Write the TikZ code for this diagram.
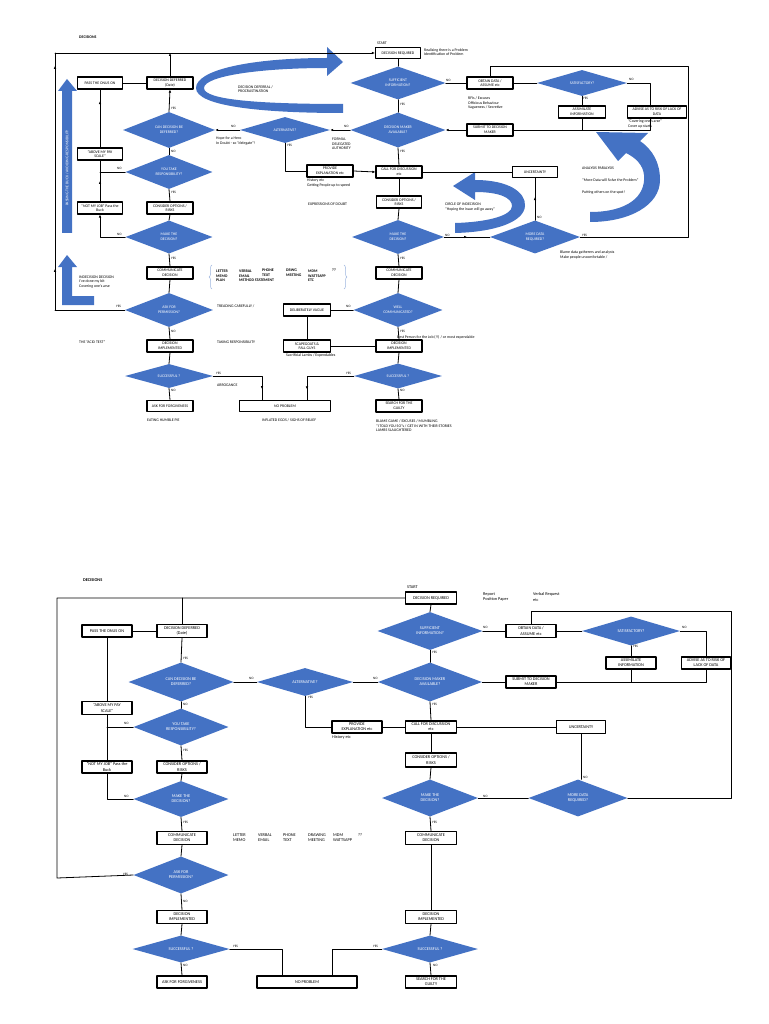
\documentclass[tikz,border=0pt]{standalone}
\usepackage{fontspec}
\setmainfont{Carlito}
\usepackage{tikz}
\usetikzlibrary{arrows.meta,positioning,calc,shapes.geometric,decorations.markings,decorations.pathreplacing}
\definecolor{decblue}{HTML}{4472C4}
\definecolor{bracegray}{HTML}{9DB5DE}
\newcommand{\tfont}{\fontsize{3.9}{4.6}\selectfont}
\newcommand{\bfnt}{\fontsize{4.3}{5.1}\selectfont}
\newcommand{\lblfont}{\fontsize{3.4}{4}\selectfont}

\begin{document}
\begin{tikzpicture}[
		x=1pt,y=-1pt,
		>=Latex,
		line cap=round,
		line join=round,
		box/.style={draw=black, line width=1.1pt, fill=white, inner sep=0.5pt, align=center, text=black},
		tbox/.style={box, font=\tfont, minimum width=46, minimum height=12},
		bbox/.style={box, font=\bfnt, minimum width=50, minimum height=13},
		dec/.style={diamond, fill=decblue, text=white, inner sep=0pt, aspect=2.8, align=center},
		tdec/.style={dec, font=\tfont, minimum width=90, minimum height=34},
		bdec/.style={dec, font=\bfnt, minimum width=98, minimum height=37},
		link/.style={line width=0.8pt, draw=black},
		flow/.style={link, -{Latex[length=3pt,width=2.6pt]}},
		midflow/.style={link, postaction={decorate}, decoration={markings, mark=at position #1 with {\arrow{Latex[length=3pt,width=2.6pt]}}}},
		tnote/.style={anchor=west, inner sep=0pt, font=\tfont, text=black},
		bnote/.style={anchor=west, inner sep=0pt, font=\bfnt, text=black},
		yn/.style={anchor=west, inner sep=0pt, font=\lblfont, text=black},
		bigarrow/.style={fill=decblue, draw=none}
	]
	\useasboundingbox (0,0) rectangle (768,1024);
	
	%%%%%%%%%%%%%%%% FIRST CHART (annotated)
	\node[anchor=west, inner sep=0pt, font=\tfont\bfseries] (ttitle) at (79,37) {DECISIONS};
	
	% Blue arrows
	\fill[bigarrow] (62,233) -- (62,91) -- (58,91) -- (67,79) -- (77,91) -- (72,91) -- (72,233) -- cycle;
	\node[rotate=90, text=white, font=\tfont, inner sep=0pt] (tbuck) at (67,168) {PASSING THE BUCK / AVOIDING RESPONSIBILITY};
	\fill[bigarrow] (62,267) -- (58,267) -- (67,255) -- (77,267) -- (72,267) -- (72,296) -- (94,296) -- (94,305) -- (62,305) -- cycle;
	\fill[bigarrow] (343,104) .. controls (260,104) and (204,100) .. (204,88) .. controls (204,76) and (260,68) .. (327,68) -- (327,76) -- (343,62) -- (327,47) -- (327,58) .. controls (250,58) and (196,70) .. (196,88) .. controls (196,106) and (260,113) .. (343,113) -- cycle;
	\fill[bigarrow] (475,180) .. controls (508,180) and (526,192) .. (525,206) .. controls (524,222) and (495,232) .. (455,233) -- (455,223) .. controls (490,222) and (512,215) .. (512,206) .. controls (512,198) and (500,192) .. (475,192) -- (475,200) -- (453,186) -- (475,172) -- cycle;
	\fill[bigarrow] (590,212) .. controls (628,212) and (646,196) .. (644,175) .. controls (643,165) and (636,158) .. (626,153) -- (618,161) -- (596,132) -- (648,133) -- (640,141) .. controls (653,150) and (660,163) .. (660,180) .. controls (660,205) and (630,222) .. (590,222) -- cycle;
	
	% Boxes and decisions
	\node[tbox, minimum width=45, minimum height=11] (t_dr) at (398,53) {DECISION REQUIRED};
	\node[tdec, minimum width=95, minimum height=33] (t_suff) at (398,83) {SUFFICIENT\\INFORMATION?};
	\node[tbox] (t_obtain) at (490,83) {OBTAIN DATA /\\ASSUME etc};
	\node[tdec, minimum height=26] (t_sat) at (582,83) {SATISFACTORY?};
	\node[tbox, minimum width=47] (t_assim) at (582,112) {ASSIMILATE\\INFORMATION};
	\node[tbox, minimum width=59] (t_advise) at (657,112) {ADVISE AS TO RISK OF LACK OF\\DATA};
	\node[tbox] (t_submit) at (490,130) {SUBMIT TO DECISION\\MAKER};
	\node[tdec, minimum width=95, minimum height=35] (t_dm) at (398,130) {DECISION MAKER\\AVAILABLE?};
	\node[tdec, minimum height=26] (t_alt) at (285,130) {ALTERNATIVE?};
	\node[tdec, minimum width=92, minimum height=36] (t_can) at (169,130) {CAN DECISION BE\\DEFERRED?};
	\node[tbox] (t_def) at (170,83) {DECISION DEFERRED\\(Date)};
	\node[tbox, minimum width=45] (t_pass) at (100,83) {PASS THE ONUS ON};
	\node[tbox, minimum width=45] (t_above) at (100,154) {"ABOVE MY PAY\\SCALE"};
	\node[tdec, minimum width=87] (t_you) at (169,172) {YOU TAKE\\RESPONSIBILITY?};
	\node[tbox, minimum width=45] (t_notjob) at (100,208) {"NOT MY JOB" Pass the\\Buck};
	\node[tbox] (t_cons) at (170,208) {CONSIDER OPTIONS /\\RISKS};
	\node[tdec, minimum width=87, minimum height=33] (t_make) at (169,237) {MAKE THE\\DECISION?};
	\node[tbox] (t_comm) at (170,273) {COMMUNICATE\\DECISION};
	\node[tdec, minimum width=88] (t_ask) at (169,310) {ASK FOR\\PERMISSION?};
	\node[tbox] (t_impl) at (170,346) {DECISION\\IMPLEMENTED};
	\node[tdec, minimum width=88, minimum height=24] (t_succ) at (169,376) {SUCCESSFUL ?};
	\node[tbox, minimum height=11] (t_forg) at (170,406) {ASK FOR FORGIVENESS};
	\node[tbox, minimum width=91, minimum height=11] (t_noprob) at (285,406) {NO PROBLEM};
	\node[tbox] (t_prov) at (330,171) {PROVIDE\\EXPLANATION etc};
	\node[tbox] (t_call) at (399,172) {CALL FOR DISCUSSION\\etc};
	\node[tbox, minimum width=45, minimum height=11] (t_unc) at (535,172) {UNCERTAINTY};
	\node[tbox, minimum width=45] (t_cons2) at (399,202) {CONSIDER OPTIONS /\\RISKS};
	\node[tdec, minimum width=92] (t_make2) at (398,237) {MAKE THE\\DECISION?};
	\node[tdec, minimum height=33] (t_more) at (535,237) {MORE DATA\\REQUIRED?};
	\node[tbox] (t_comm2) at (399,273) {COMMUNICATE\\DECISION};
	\node[tdec, minimum width=89] (t_well) at (398,310) {WELL\\COMMUNICATED?};
	\node[tbox, minimum width=47] (t_vague) at (307,310) {DELIBERATELY VAGUE};
	\node[tbox, minimum width=47] (t_scape) at (307,346) {SCAPEGOATS \&\\FALL GUYS};
	\node[tbox] (t_impl2) at (399,346) {DECISION\\IMPLEMENTED};
	\node[tdec, minimum width=88, minimum height=25] (t_succ2) at (398,376) {SUCCESSFUL ?};
	\node[tbox] (t_guilty) at (399,406) {SEARCH FOR THE\\GUILTY};
	
	% Loop corners
	\coordinate (t_tl) at (55,53);
	\coordinate (t_bl) at (55,310);
	\coordinate (t_tr) at (688,66);
	\coordinate (t_br) at (688,237);
	
	% Connectors
	\draw[link] (t_ask.west) -- (t_bl);
	\draw[link, postaction={decorate}, decoration={markings, mark=at position 0.16 with {\arrow{Latex[length=3pt,width=2.6pt]}}, mark=at position 0.95 with {\arrow{Latex[length=3pt,width=2.6pt]}}}] (t_bl) -- (t_tl);
	\draw[flow] (t_tl) -- (t_dr.west);
	\draw[flow] (t_def.north) -- (t_def.north |- t_tl);
	\draw[link] (t_pass.east) -- (t_def.west);
	\draw[link] (t_dr.south) -- (t_suff.north);
	\draw[link] (t_suff.east) -- (t_obtain.west);
	\draw[link] (t_obtain.east) -- (t_sat.west);
	\draw[link] (t_sat.east) -| ([xshift=-7]t_advise.north);
	\draw[link] (t_sat.south) -- (t_assim.north);
	\draw[link] (t_more.east) -- (t_br) -- (t_tr) -| (t_obtain.north);
	\draw[link] ([xshift=-7]t_advise.south) |- (t_submit.east);
	\draw[link] (t_assim.south) -- (t_assim.south |- t_submit.east);
	\draw[flow] (t_submit.west) -- (t_dm.east);
	\draw[link] (t_suff.south) -- (t_dm.north);
	\draw[flow] (t_dm.west) -- (t_alt.east);
	\draw[flow] (t_alt.west) -- (t_can.east);
	\draw[flow] (t_can.north) -- (t_def.south);
	\draw[link] (t_can.south) -- (t_you.north);
	\draw[link] (t_alt.south) |- (t_prov.west);
	\draw[flow] (t_prov.east) -- (t_call.west);
	\draw[link] (t_dm.south) -- (t_call.north);
	\draw[link] (t_call.east) -- (t_unc.west);
	\draw[midflow=0.55] (t_more.north) -- (t_unc.south);
	\draw[link] (t_call.south) -- (t_cons2.north);
	\draw[link] (t_cons2.south) -- (t_make2.north);
	\draw[midflow=0.5] (t_make2.east) -- (t_more.west);
	\draw[link] (t_make2.south) -- (t_comm2.north);
	\draw[link] (t_comm2.south) -- (t_well.north);
	\draw[link] (t_well.west) -- (t_vague.east);
	\draw[link] (t_vague.south) -- (t_scape.north);
	\draw[link] (t_impl2.west) -- (t_scape.east);
	\draw[link] (t_well.south) -- (t_impl2.north);
	\draw[link] (t_impl2.south) -- (t_succ2.north);
	\draw[midflow=0.85] (t_succ2.west) -| ([xshift=22]t_noprob.north);
	\draw[midflow=0.85] (t_succ.east) -| ([xshift=-23]t_noprob.north);
	\draw[link] (t_succ2.south) -- (t_guilty.north);
	\draw[midflow=0.8] (t_above.north) -- (t_pass.south);
	\draw[midflow=0.5] (t_notjob.north) -- (t_above.south);
	\draw[link] (t_you.west) -- (t_you.west -| t_above.south);
	\draw[flow] (t_make.west) -| (t_notjob.south);
	\draw[link] (t_you.south) -- (t_cons.north);
	\draw[link] (t_cons.south) -- (t_make.north);
	\draw[link] (t_make.south) -- (t_comm.north);
	\draw[link] (t_comm.south) -- (t_ask.north);
	\draw[link] (t_ask.south) -- (t_impl.north);
	\draw[link] (t_impl.south) -- (t_succ.north);
	\draw[link] (t_succ.south) -- (t_forg.north);
	
	% Yes / No
	\node[yn] (t_y1) at (446,80) {NO};
	\node[yn] (t_y2) at (629,79) {NO};
	\node[yn] (t_y3) at (583,98) {YES};
	\node[yn] (t_y4) at (400,104) {YES};
	\node[yn] (t_y5) at (344,126) {NO};
	\node[yn] (t_y6) at (400,151) {YES};
	\node[yn] (t_y7) at (231,126) {NO};
	\node[yn] (t_y8) at (287,145) {YES};
	\node[yn] (t_y9) at (171,108) {YES};
	\node[yn] (t_y10) at (171,151) {NO};
	\node[yn] (t_y11) at (117,168) {NO};
	\node[yn] (t_y12) at (171,192) {YES};
	\node[yn] (t_y13) at (117,234) {NO};
	\node[yn] (t_y14) at (171,258) {YES};
	\node[yn] (t_y15) at (116,306) {YES};
	\node[yn] (t_y16) at (171,331) {NO};
	\node[yn] (t_y17) at (216,373) {YES};
	\node[yn] (t_y18) at (171,390) {NO};
	\node[yn] (t_y19) at (445,235) {NO};
	\node[yn] (t_y20) at (400,258) {YES};
	\node[yn] (t_y21) at (537,217) {NO};
	\node[yn] (t_y22) at (582,235) {YES};
	\node[yn] (t_y23) at (346,306) {NO};
	\node[yn] (t_y24) at (400,331) {YES};
	\node[yn] (t_y25) at (346,373) {YES};
	\node[yn] (t_y26) at (400,390) {NO};
	
	% Notes
	\node[tnote] (t_start) at (377,43) {START};
	\node[tnote, align=left] (t_real) at (424,52) {Realising there is a Problem\\Identification of Problem};
	\node[tnote, align=left] (t_rfi) at (468,103) {RFIs / Excuses\\Officious Behaviour\\Vagueness / Secretive};
	\node[tnote, align=left] (t_cover) at (628,124) {"Covering one's arse"\\Cover up starts};
	\node[tnote, align=left] (t_proc) at (238,89) {DECISION DEFERRAL /\\PROCRASTINATION};
	\node[tnote, align=left] (t_hope) at (216,141) {Hope for a Hero\\In Doubt - so "delegate"!};
	\node[tnote, align=left] (t_formal) at (332,144) {FORMAL\\DELEGATED\\AUTHORITY};
	\node[tnote, align=left] (t_hist) at (307,183) {History etc\\Getting People up to speed};
	\node[tnote] (t_doubt) at (308,204) {EXPRESSIONS OF DOUBT};
	\node[tnote, align=left] (t_circle) at (445,207) {CIRCLE OF INDECISION\\"Hoping the issue will go away"};
	\node[tnote] (t_ana1) at (582,168) {ANALYSIS PARALYSIS};
	\node[tnote] (t_ana2) at (582,180) {"More Data will Solve the Problem"};
	\node[tnote] (t_ana3) at (582,192) {Putting others on the spot!};
	\node[tnote, align=left] (t_blame) at (560,255) {Blame data gatherers and analysts\\Make people uncomfortable /};
	\node[tnote, align=left] (t_indec) at (79,282) {INDECISION DECISION\\I've done my bit\\Covering one's arse};
	\node[tnote] (t_tread) at (217,306) {TREADING CAREFULLY /};
	\node[tnote] (t_taking) at (217,342) {TAKING RESPONSIBILITY};
	\node[tnote] (t_acid) at (79,342) {THE "ACID TEST"};
	\node[tnote] (t_arrog) at (217,385) {ARROGANCE};
	\node[tnote] (t_humble) at (147,420) {EATING HUMBLE PIE};
	\node[tnote] (t_egos) at (262,420) {INFLATED EGOS / SIGHS OF RELIEF};
	\node[tnote] (t_lambs) at (286,355) {Sacrificial Lambs / Expendables};
	\node[tnote] (t_best) at (397,337) {Best Person for the Job (!!) / or most expendable};
	\node[tnote, align=left] (t_game) at (376,426) {BLAME GAME / EXCUSES / MUMBLING\\"I TOLD YOU SO"s / GET IN WITH THEIR STORIES\\LAMBS SLAUGHTERED};
	
	% Ways of communicating
	\draw[bracegray, line width=0.5pt, decorate, decoration={brace, amplitude=3pt}] (212,289) -- (212,265);
	\draw[bracegray, line width=0.5pt, decorate, decoration={brace, amplitude=3pt}] (344,265) -- (344,289);
	\node[tnote, font=\tfont\bfseries, align=left] (t_w1) at (216,276) {LETTER\\MEMO\\PLAN};
	\node[tnote, font=\tfont\bfseries, align=left] (t_w2) at (239,276) {VERBAL\\EMAIL\\METHOD STATEMENT};
	\node[tnote, font=\tfont\bfseries, align=left] (t_w3) at (262,273) {PHONE\\TEXT};
	\node[tnote, font=\tfont\bfseries, align=left] (t_w4) at (286,273) {DRWG\\MEETING};
	\node[tnote, font=\tfont\bfseries, align=left] (t_w5) at (308,276) {MDM\\WATTSAPP\\ETC};
	\node[tnote, font=\tfont\bfseries] (t_w6) at (332,270) {??};
	
	%%%%%%%%%%%%%%%% SECOND CHART (plain)
	\node[anchor=west, inner sep=0pt, font=\bfnt\bfseries] (btitle) at (83,580) {DECISIONS};
	
	\node[bbox, minimum width=51, minimum height=12] (b_dr) at (431,598) {DECISION REQUIRED};
	\node[bdec, minimum width=105, minimum height=38] (b_suff) at (430,631) {SUFFICIENT\\INFORMATION?};
	\node[bbox] (b_obtain) at (531,631) {OBTAIN DATA /\\ASSUME etc};
	\node[bdec, minimum height=29] (b_sat) at (631,631) {SATISFACTORY?};
	\node[bbox, minimum height=12] (b_assim) at (631,663) {ASSIMILATE\\INFORMATION};
	\node[bbox, minimum width=49, minimum height=12] (b_advise) at (706,663) {ADVISE AS TO RISK OF\\LACK OF DATA};
	\node[bbox, minimum height=12] (b_submit) at (531,682) {SUBMIT TO DECISION\\MAKER};
	\node[bdec, minimum width=104, minimum height=39] (b_dm) at (430,682) {DECISION MAKER\\AVAILABLE?};
	\node[bdec, minimum width=96, minimum height=28] (b_alt) at (305,682) {ALTERNATIVE?};
	\node[bdec, minimum width=105, minimum height=39] (b_can) at (181,682) {CAN DECISION BE\\DEFERRED?};
	\node[bbox] (b_def) at (182,631) {DECISION DEFERRED\\(Date)};
	\node[bbox, minimum height=12] (b_pass) at (107,631) {PASS THE ONUS ON};
	\node[bbox] (b_above) at (107,708) {"ABOVE MY PAY\\SCALE"};
	\node[bdec, minimum width=95] (b_you) at (181,727) {YOU TAKE\\RESPONSIBILITY?};
	\node[bbox, minimum height=12] (b_notjob) at (107,767) {"NOT MY JOB" Pass the\\Buck};
	\node[bbox, minimum height=12] (b_cons) at (182,767) {CONSIDER OPTIONS /\\RISKS};
	\node[bdec, minimum width=95, minimum height=36] (b_make) at (181,799) {MAKE THE\\DECISION?};
	\node[bbox] (b_comm) at (182,838) {COMMUNICATE\\DECISION};
	\node[bdec, minimum width=95] (b_ask) at (181,875) {ASK FOR\\PERMISSION?};
	\node[bbox] (b_impl) at (182,917) {DECISION\\IMPLEMENTED};
	\node[bdec, minimum width=97, minimum height=27] (b_succ) at (181,949) {SUCCESSFUL ?};
	\node[bbox, minimum height=12] (b_forg) at (182,982) {ASK FOR FORGIVENESS};
	\node[bbox, minimum width=100, minimum height=12] (b_noprob) at (307,982) {NO PROBLEM};
	\node[bbox, minimum height=12] (b_prov) at (357,727) {PROVIDE\\EXPLANATION etc};
	\node[bbox, minimum width=51, minimum height=12] (b_call) at (431,727) {CALL FOR DISCUSSION\\etc};
	\node[bbox, minimum width=49] (b_unc) at (581,727) {UNCERTAINTY};
	\node[bbox, minimum width=51, minimum height=14] (b_cons2) at (431,760) {CONSIDER OPTIONS /\\RISKS};
	\node[bdec, minimum width=96] (b_make2) at (430,798) {MAKE THE\\DECISION?};
	\node[bdec, minimum width=99] (b_more) at (578,798) {MORE DATA\\REQUIRED?};
	\node[bbox, minimum width=51] (b_comm2) at (431,838) {COMMUNICATE\\DECISION};
	\node[bbox, minimum width=51] (b_impl2) at (431,917) {DECISION\\IMPLEMENTED};
	\node[bdec, minimum width=96, minimum height=27] (b_succ2) at (430,949) {SUCCESSFUL ?};
	\node[bbox, minimum width=51, minimum height=12] (b_guilty) at (431,982) {SEARCH FOR THE\\GUILTY};
	
	% Loop corners
	\coordinate (b_tl) at (57,598);
	\coordinate (b_bl) at (57,878);
	\coordinate (b_tr) at (731,611);
	\coordinate (b_br) at (731,798);
	
	% Connectors
	\draw[link] (b_ask.west) -- (b_bl) -- (b_tl) -- (b_dr.west);
	\draw[link] (b_def.north) -- (b_def.north |- b_tl);
	\draw[link] (b_pass.east) -- (b_def.west);
	\draw[link] (b_dr.south) -- (b_suff.north);
	\draw[link] (b_suff.east) -- (b_obtain.west);
	\draw[link] (b_obtain.east) -- (b_sat.west);
	\draw[link] (b_sat.east) -| (b_advise.north);
	\draw[link] (b_sat.south) -- (b_assim.north);
	\draw[link] (b_more.east) -- (b_br) -- (b_tr) -| (b_obtain.north);
	\draw[link] (b_advise.south) |- (b_submit.east);
	\draw[link] (b_assim.south) -- (b_assim.south |- b_submit.east);
	\draw[link] (b_submit.west) -- (b_dm.east);
	\draw[link] (b_suff.south) -- (b_dm.north);
	\draw[link] (b_dm.west) -- (b_alt.east);
	\draw[link] (b_alt.west) -- (b_can.east);
	\draw[link] (b_can.north) -- (b_def.south);
	\draw[link] (b_can.south) -- (b_you.north);
	\draw[link] (b_alt.south) |- (b_prov.west);
	\draw[link] (b_prov.east) -- (b_call.west);
	\draw[link] (b_dm.south) -- (b_call.north);
	\draw[link] (b_call.east) -- (b_unc.west);
	\draw[link] (b_unc.south) -- (b_unc.south |- b_more.north);
	\draw[link] (b_call.south) -- (b_cons2.north);
	\draw[link] (b_cons2.south) -- (b_make2.north);
	\draw[link] (b_make2.east) -- (b_more.west);
	\draw[link] (b_make2.south) -- (b_comm2.north);
	\draw[link] (b_comm2.south) -- (b_impl2.north);
	\draw[link] (b_impl2.south) -- (b_succ2.north);
	\draw[link] (b_succ2.west) -| ([xshift=25]b_noprob.north);
	\draw[link] (b_succ.east) -| ([xshift=-25]b_noprob.north);
	\draw[link] (b_succ2.south) -- (b_guilty.north);
	\draw[link] (b_pass.south) -- (b_above.north);
	\draw[link] (b_above.south) -- (b_notjob.north);
	\draw[link] (b_you.west) -- (b_you.west -| b_above.south);
	\draw[link] (b_make.west) -| (b_notjob.south);
	\draw[link] (b_you.south) -- (b_cons.north);
	\draw[link] (b_cons.south) -- (b_make.north);
	\draw[link] (b_make.south) -- (b_comm.north);
	\draw[link] (b_comm.south) -- (b_ask.north);
	\draw[link] (b_ask.south) -- (b_impl.north);
	\draw[link] (b_impl.south) -- (b_succ.north);
	\draw[link] (b_succ.south) -- (b_forg.north);
	
	% Yes / No
	\node[yn] (b_y1) at (483,627) {NO};
	\node[yn] (b_y2) at (682,627) {NO};
	\node[yn] (b_y3) at (633,646) {YES};
	\node[yn] (b_y4) at (432,652) {YES};
	\node[yn] (b_y5) at (373,678) {NO};
	\node[yn] (b_y6) at (432,704) {YES};
	\node[yn] (b_y7) at (249,678) {NO};
	\node[yn] (b_y8) at (308,697) {YES};
	\node[yn] (b_y9) at (183,658) {YES};
	\node[yn] (b_y10) at (183,704) {NO};
	\node[yn] (b_y11) at (124,723) {NO};
	\node[yn] (b_y12) at (183,750) {YES};
	\node[yn] (b_y13) at (124,796) {NO};
	\node[yn] (b_y14) at (183,822) {YES};
	\node[yn] (b_y15) at (123,874) {YES};
	\node[yn] (b_y16) at (183,901) {NO};
	\node[yn] (b_y17) at (233,946) {YES};
	\node[yn] (b_y18) at (183,965) {NO};
	\node[yn] (b_y19) at (373,946) {YES};
	\node[yn] (b_y20) at (433,965) {NO};
	\node[yn] (b_y21) at (483,796) {NO};
	\node[yn] (b_y22) at (432,822) {YES};
	\node[yn] (b_y23) at (583,777) {NO};
	
	% Notes
	\node[bnote] (b_start) at (407,587) {START};
	\node[bnote, align=left] (b_report) at (483,597) {Report\\Position Paper};
	\node[bnote, align=left] (b_verbal) at (533,597) {Verbal Request\\etc};
	\node[bnote] (b_hist) at (332,737) {History etc};
	\node[bnote, align=left] (b_w1) at (233,838) {LETTER\\MEMO};
	\node[bnote, align=left] (b_w2) at (258,838) {VERBAL\\EMAIL};
	\node[bnote, align=left] (b_w3) at (283,838) {PHONE\\TEXT};
	\node[bnote, align=left] (b_w4) at (308,838) {DRAWING\\MEETING};
	\node[bnote, align=left] (b_w5) at (333,838) {MDM\\WATTSAPP};
	\node[bnote] (b_w6) at (358,835) {??};
	
\end{tikzpicture}
\end{document}
